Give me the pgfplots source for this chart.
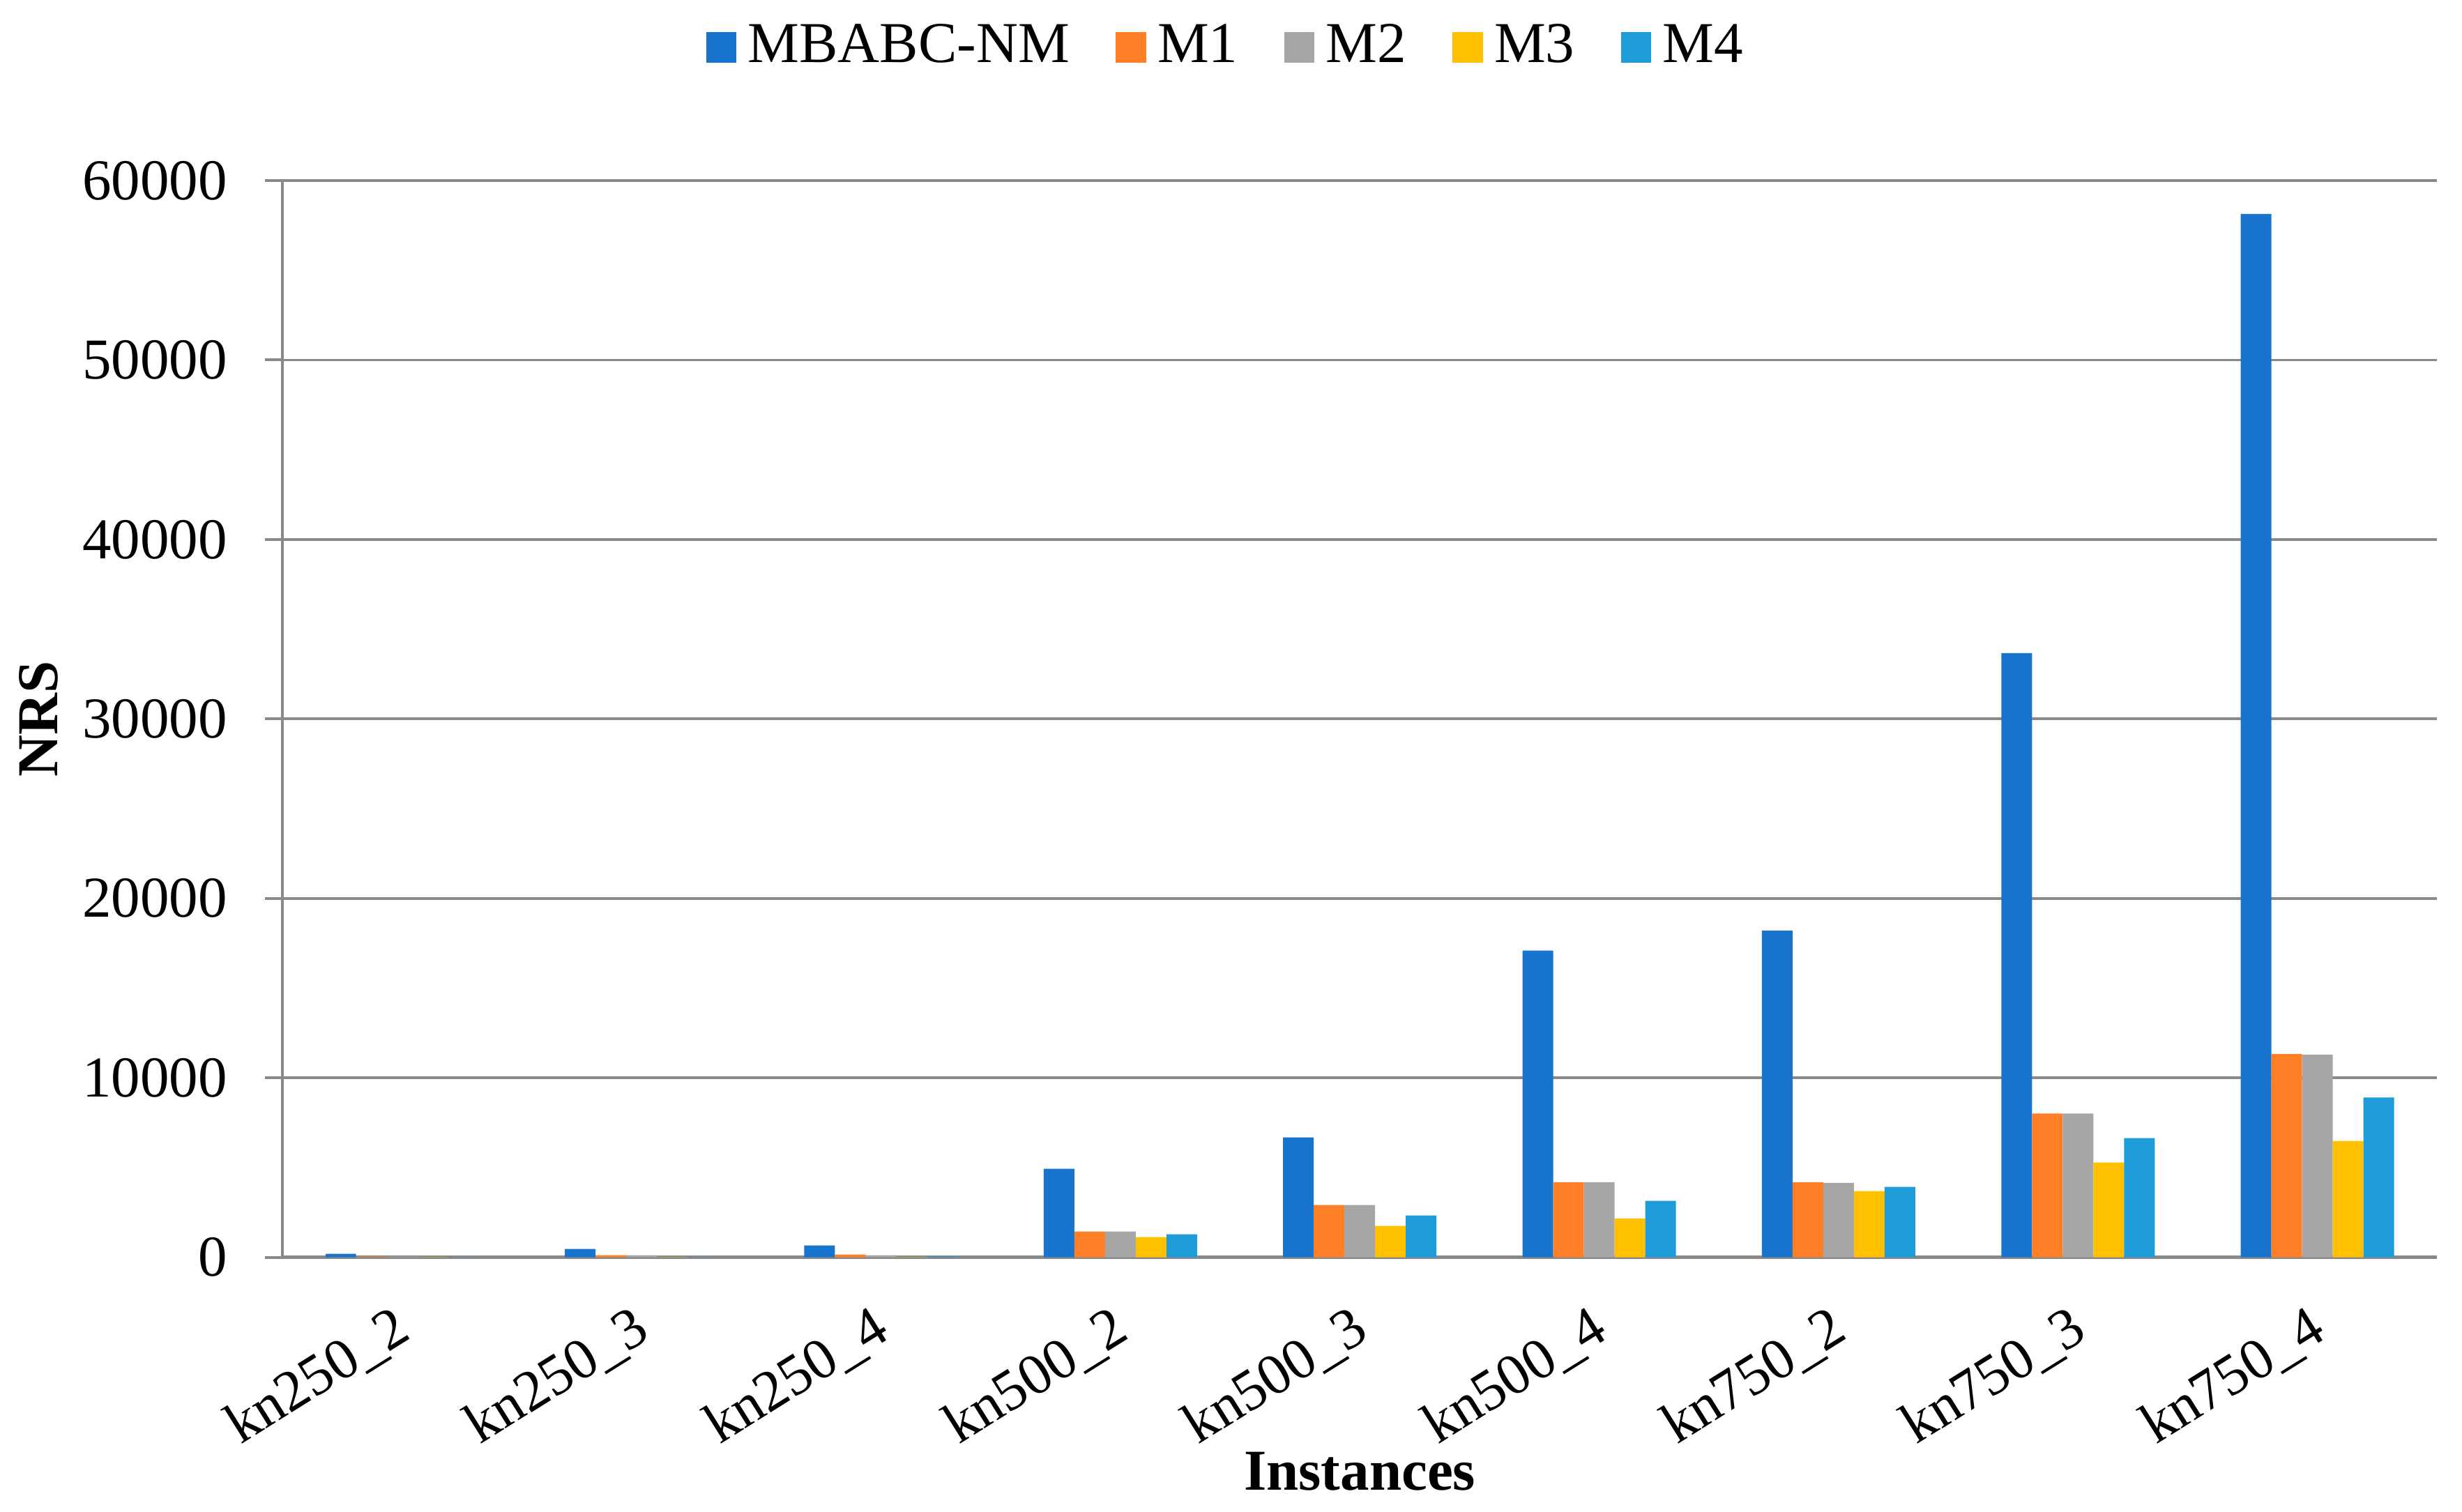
\documentclass[border=0pt]{standalone}
\usepackage{pgfplots}
\pgfplotsset{compat=1.18}
\usepackage{fontspec}
\setmainfont{Liberation Serif}

\definecolor{cMB}{RGB}{24,116,205}
\definecolor{cMone}{RGB}{255,127,39}
\definecolor{cMtwo}{RGB}{166,166,166}
\definecolor{cMthree}{RGB}{255,192,0}
\definecolor{cMfour}{RGB}{29,156,216}
\definecolor{axgray}{RGB}{137,137,137}

\begin{document}
\begin{tikzpicture}
	\begin{axis}[
			scale only axis,
			width=372.3pt,
			height=186.1pt,
			ybar=0pt,
			bar width=5.3pt,
			ymin=0, ymax=60000,
			ytick distance=10000,
			xmin=-0.5, xmax=8.5,
			xtick=data,
			xticklabels={kn250\_2,kn250\_3,kn250\_4,kn500\_2,kn500\_3,kn500\_4,kn750\_2,kn750\_3,kn750\_4},
			xticklabel style={rotate=32, anchor=north east, inner sep=1pt, xshift=-3pt, yshift=-2pt},
			xtick style={draw=none},
			ytick style={draw=axgray, line width=0.5pt},
			tick align=outside,
			major tick length=3pt,
			axis x line*=bottom,
			axis y line*=left,
			x axis line style={draw=axgray, line width=0.6pt},
			y axis line style={draw=axgray, line width=0.5pt},
			ymajorgrids,
			major grid style={draw=axgray, line width=0.45pt},
			scaled y ticks=false,
			/pgf/number format/assume math mode=true,
			/pgf/number format/set thousands separator={},
			yticklabel style={font=\rmfamily, xshift=-3pt},
			xlabel={\bfseries Instances},
			ylabel={\bfseries NRS},
			xlabel style={at={(axis description cs:0.5,-0.199)}, anchor=center},
			ylabel style={at={(axis description cs:-0.113,0.5)}, anchor=center},
			legend style={at={(0.44,1.1236)}, anchor=center, draw=none, fill=none,
				legend columns=-1, /tikz/every even column/.append style={column sep=6pt}},
			legend image code/.code={\fill[#1] (0pt,-2.6pt) rectangle (5.2pt,2.6pt);},
		]
		\addplot[fill=cMB, draw=none] coordinates {(0,200) (1,470) (2,660) (3,4930) (4,6680) (5,17090) (6,18210) (7,33670) (8,58140)};
		\addplot[fill=cMone, draw=none] coordinates {(0,45) (1,120) (2,155) (3,1440) (4,2910) (5,4190) (6,4190) (7,8010) (8,11330)};
		\addplot[fill=cMtwo, draw=none] coordinates {(0,45) (1,117) (2,117) (3,1440) (4,2910) (5,4190) (6,4150) (7,8010) (8,11290)};
		\addplot[fill=cMthree, draw=none] coordinates {(0,10) (1,10) (2,10) (3,1130) (4,1750) (5,2170) (6,3690) (7,5280) (8,6480)};
		\addplot[fill=cMfour, draw=none] coordinates {(0,10) (1,10) (2,40) (3,1280) (4,2330) (5,3150) (6,3920) (7,6640) (8,8910)};
		\legend{MBABC-NM,M1,M2,M3,M4}
	\end{axis}
	\path (current axis.south west) ++(-48.8pt,-43.9pt) rectangle ++(425.4pt,261.2pt);
\end{tikzpicture}
\end{document}
